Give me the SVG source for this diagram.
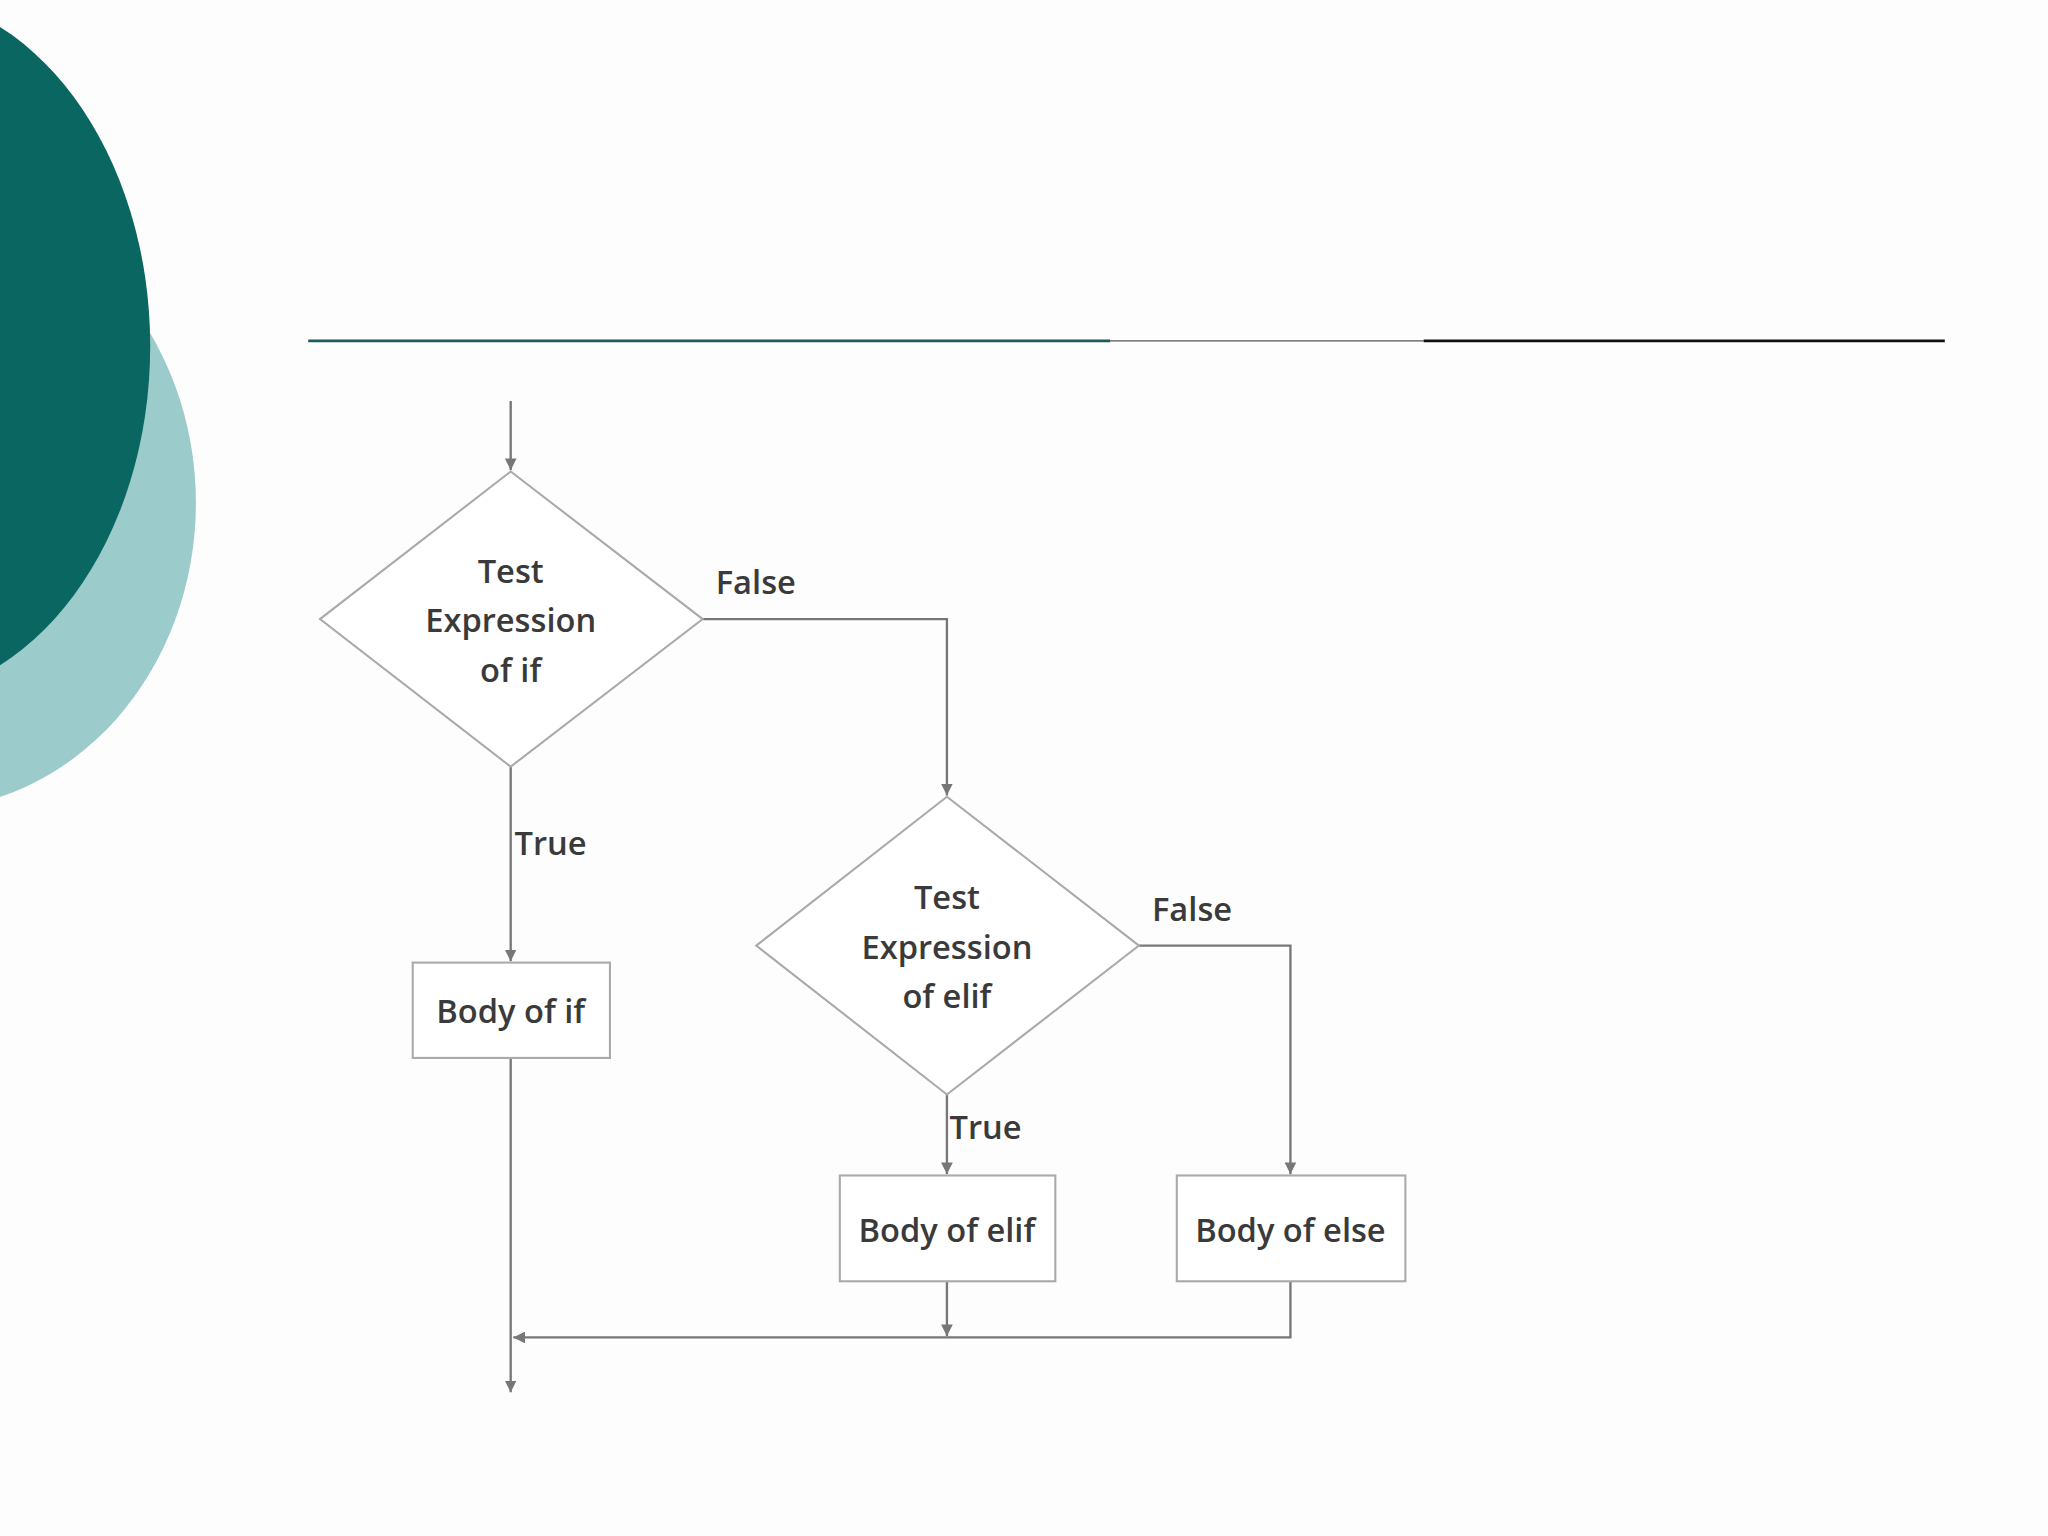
<svg xmlns="http://www.w3.org/2000/svg" width="2048" height="1536" viewBox="0 0 2048 1536">
<defs>
<marker id="ah" viewBox="0 0 10 10" refX="10" refY="5" markerWidth="9" markerHeight="9" orient="auto" markerUnits="userSpaceOnUse"><path d="M0,0 L10,5 L0,10 z" fill="#777"/></marker>
<style>
.sh{fill:#fff;stroke:#aaa;stroke-width:1.6}
.t{font-family:"Open Sans","Liberation Sans",sans-serif;font-size:25px;font-weight:600;fill:#3a3a3a;text-anchor:middle}
.l{font-family:"Open Sans","Liberation Sans",sans-serif;font-size:25px;font-weight:600;fill:#3a3a3a}
.c{fill:none;stroke:#777;stroke-width:1.8}
</style>
</defs>
<rect width="2048" height="1536" fill="#fdfdfd"/>
<g transform="scale(1.3061)">
<g id="decor">
<ellipse cx="-60" cy="385" rx="210" ry="235" fill="#9ccbcc"/>
<ellipse cx="-85" cy="265" rx="200" ry="270" fill="#0a6661"/>
<line x1="236" y1="261" x2="850" y2="261" stroke="#1d5a5a" stroke-width="2"/>
<line x1="850" y1="261" x2="1090" y2="261" stroke="#555" stroke-width="1"/>
<line x1="1090" y1="261" x2="1489" y2="261" stroke="#111" stroke-width="2"/>
</g>
<g id="connectors">
<line class="c" x1="391" y1="307" x2="391" y2="360" marker-end="url(#ah)"/>
<polyline class="c" points="538,474 725,474 725,609" marker-end="url(#ah)"/>
<line class="c" x1="391" y1="587" x2="391" y2="736" marker-end="url(#ah)"/>
<polyline class="c" points="872,724 988,724 988,899" marker-end="url(#ah)"/>
<line class="c" x1="725" y1="838" x2="725" y2="899" marker-end="url(#ah)"/>
<line class="c" x1="725" y1="981" x2="725" y2="1023" marker-end="url(#ah)"/>
<polyline class="c" points="988,981 988,1024 393,1024" marker-end="url(#ah)"/>
<line class="c" x1="391" y1="810" x2="391" y2="1066" marker-end="url(#ah)"/>
<text class="l" x="548" y="455">False</text>
<text class="l" x="394" y="655">True</text>
<text class="l" x="882" y="705">False</text>
<text class="l" x="727" y="872">True</text>
</g>
<g id="d1"><polygon class="sh" points="391,361 538,474 391,587 245,474"/>
<text class="t" x="391" y="446">Test</text><text class="t" x="391" y="484">Expression</text><text class="t" x="391" y="522">of if</text></g>
<g id="d2"><polygon class="sh" points="725,610 872,724 725,838 579,724"/>
<text class="t" x="725" y="696">Test</text><text class="t" x="725" y="734">Expression</text><text class="t" x="725" y="772">of elif</text></g>
<g id="b1"><rect class="sh" x="316" y="737" width="151" height="73"/><text class="t" x="391" y="783">Body of if</text></g>
<g id="b2"><rect class="sh" x="643" y="900" width="165" height="81"/><text class="t" x="725" y="951">Body of elif</text></g>
<g id="b3"><rect class="sh" x="901" y="900" width="175" height="81"/><text class="t" x="988" y="951">Body of else</text></g>
</g>
</svg>
